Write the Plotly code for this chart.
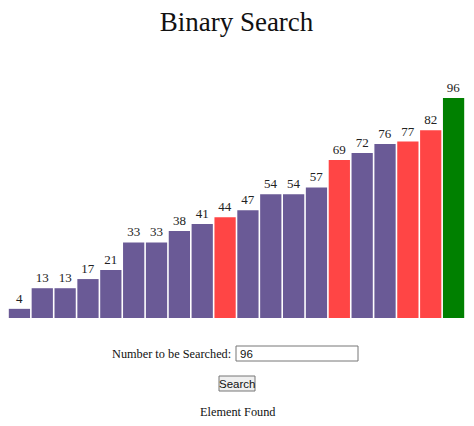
import plotly.graph_objects as go

values = [4, 13, 13, 17, 21, 33, 33, 38, 41, 44, 47, 54, 54, 57, 69, 72, 76, 77, 82, 96]
states = ["n", "n", "n", "n", "n", "n", "n", "n", "n", "r", "n", "n", "n", "n", "r", "n", "n", "r", "r", "g"]
state_colors = {"n": "#6a5a96", "r": "#ff4545", "g": "#008000"}
search_value = "96"
result_text = "Element Found"

W, H = 474, 426
L, R, T, B = 8, 9, 80, 108
PW, PH = W - L - R, H - T - B

def px(x):
    return (x - L) / PW

def py(y):
    return (H - B - y) / PH

idx = list(range(len(values)))
fig = go.Figure(go.Bar(
    x=idx, y=values,
    marker=dict(color=[state_colors[s] for s in states], line=dict(width=0)),
    text=[str(v) for v in values], textposition="outside",
    textfont=dict(family="Liberation Serif", size=13, color="#222"),
    cliponaxis=False, hoverinfo="skip",
))

fig.update_layout(
    width=W, height=H, margin=dict(l=L, r=R, t=T, b=B),
    paper_bgcolor="white", plot_bgcolor="white",
    showlegend=False, bargap=0.07,
    title=dict(text="Binary Search", x=0.5, xref="paper", xanchor="center",
               y=1 - 22 / H, yanchor="middle",
               font=dict(family="Liberation Serif", size=27, color="#111")),
    xaxis=dict(visible=False, range=[-0.5, len(values) - 0.5]),
    yaxis=dict(visible=False, range=[0, 103.9]),
)

# input box
fig.add_shape(type="rect", xref="paper", yref="paper",
              x0=px(236), x1=px(358), y0=py(346), y1=py(361),
              line=dict(color="#767676", width=1), fillcolor="white")
# button
fig.add_shape(type="rect", xref="paper", yref="paper",
              x0=px(219), x1=px(255), y0=py(376), y1=py(391),
              line=dict(color="#767676", width=1), fillcolor="#efefef")

ann = [
    dict(text="Number to be Searched:", x=px(233), y=py(353.5), xanchor="right", yanchor="middle",
         font=dict(family="Liberation Serif", size=12.3, color="#111")),
    dict(text=search_value, x=px(238), y=py(353.5), xanchor="left", yanchor="middle",
         font=dict(family="Liberation Sans", size=11.5, color="#111")),
    dict(text="Search", x=px(237), y=py(383.5), xanchor="center", yanchor="middle",
         font=dict(family="Liberation Sans", size=11.5, color="#111")),
    dict(text=result_text, x=px(237), y=py(412), xanchor="center", yanchor="middle",
         font=dict(family="Liberation Serif", size=12.3, color="#111")),
]
for a in ann:
    fig.add_annotation(xref="paper", yref="paper", showarrow=False, **a)

fig.write_html("out.html")
